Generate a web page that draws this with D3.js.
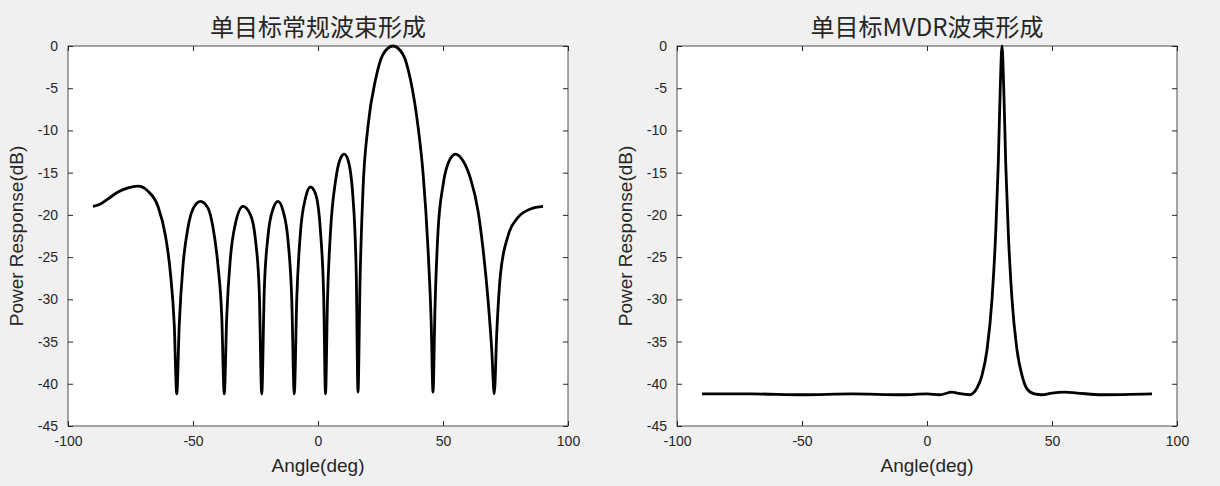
<!DOCTYPE html><html><head><meta charset="utf-8"><script src="https://cdn.jsdelivr.net/npm/d3@7"></script>
<style>body{margin:0;background:#f0f0f0}svg{display:block}</style></head><body><svg id="c" width="1220" height="486"></svg>
<script>
const xTicks=[-100,-50,0,50,100];
const yTicks=[0,-5,-10,-15,-20,-25,-30,-35,-40,-45];
const cbfAngle=[-90,-87,-84,-80,-76,-72,-68,-64,-61,-59,-57.5,-56.5,-55.5,-54,-52,-50,-47,-44,-42,-40,-38.5,-37.5,-36.5,-35,-33,-30,-27,-25,-23.5,-22.5,-21.5,-20,-18,-16,-14,-12,-10.5,-9.5,-8.5,-7,-5,-3,-1,1,2.3,3,3.8,5,7,9,10.5,12,14,15.3,16,16.8,18,20,23,26,30,34,37,40,42,44,45.3,46,46.8,48,50,53,55,58,61,64,66,68,69.5,70.5,71.5,73,76,80,85,90];
const cbfDb=[-19,-18.7,-18.1,-17.3,-16.8,-16.6,-17.2,-19,-22.5,-27,-33,-41.2,-33,-26,-21.5,-19.3,-18.4,-19.2,-21.5,-26,-32,-41.2,-32,-25,-21,-19,-20,-23,-29,-41.2,-29,-22.5,-19.3,-18.4,-19.5,-23,-30,-41.2,-30,-22,-18,-16.7,-17.5,-22,-30,-41.2,-30,-22,-16,-13.3,-12.8,-13.5,-18,-27,-41,-28,-17,-9.5,-4,-1,0,-1,-4,-9.5,-15,-24,-33,-41,-31,-22,-16.5,-13.3,-12.8,-13.6,-15.7,-19.5,-24,-30,-36,-41.2,-34,-27,-22.5,-20.3,-19.3,-19];
const mvdrAngle=[-90,-70,-50,-30,-10,0,5,10,12,17,20,22,24,26,27.5,28.5,29.3,30,30.7,31.5,32.5,34,36,38,40,43,46,50,55,60,70,90];
const mvdrDb=[-41.2,-41.2,-41.3,-41.2,-41.3,-41.2,-41.3,-41,-41.1,-41.3,-40.5,-39,-36,-30,-22,-14,-5,0,-5,-14,-22,-30,-36,-39,-40.6,-41.2,-41.3,-41.1,-41,-41.1,-41.3,-41.2];
const svg=d3.select("#c");
const fmt=d=>String(d);
function panel(x0,title,ang,db){
  const x=d3.scaleLinear().domain([-100,100]).range([x0,x0+500]);
  const y=d3.scaleLinear().domain([-45,0]).range([426,46]);
  const g=svg.append("g");
  g.append("rect").attr("x",x0).attr("y",46).attr("width",500).attr("height",380).attr("fill","#fff");
  const st=s=>{s.selectAll("path.domain").remove();s.selectAll("line").attr("stroke","#262626");s.selectAll("text").attr("fill","#262626").style("font-family","Arial, Liberation Sans").style("font-size","14px");};
  g.append("g").attr("transform","translate(0,426)").call(d3.axisBottom(x).tickValues(xTicks).tickSize(-5).tickPadding(10).tickFormat(fmt)).call(st);
  g.append("g").attr("transform","translate(0,46)").call(d3.axisTop(x).tickValues(xTicks).tickSize(-5).tickFormat("")).call(st);
  g.append("g").attr("transform",`translate(${x0},0)`).call(d3.axisLeft(y).tickValues(yTicks).tickSize(-5).tickPadding(10).tickFormat(fmt)).call(st);
  g.append("g").attr("transform",`translate(${x0+500},0)`).call(d3.axisRight(y).tickValues(yTicks).tickSize(-5).tickFormat("")).call(st);
  g.append("rect").attr("x",x0).attr("y",46).attr("width",500).attr("height",380).attr("fill","none").attr("stroke","#262626").attr("stroke-width",0.8);
  const line=d3.line().x((d,i)=>x(ang[i])).y(d=>y(d)).curve(d3.curveMonotoneX);
  g.append("path").attr("d",line(db)).attr("fill","none").attr("stroke","#000").attr("stroke-width",2.8);
  g.append("text").attr("x",x0+250).attr("y",472).attr("text-anchor","middle").style("font-family","Arial, Liberation Sans").style("font-size","19px").attr("fill","#262626").text("Angle(deg)");
  g.append("text").attr("transform",`translate(${x0-45},236) rotate(-90)`).attr("text-anchor","middle").style("font-family","Arial, Liberation Sans").style("font-size","19px").attr("fill","#262626").text("Power Response(dB)");
  g.append("text").attr("x",x0+250).attr("y",36).attr("text-anchor","middle").style("font-family","'Noto Sans CJK SC', Arial").style("font-size","24px").attr("fill","#262626").text(title);
}
panel(68,"单目标常规波束形成",cbfAngle,cbfDb);
panel(677,"单目标MVDR波束形成",mvdrAngle,mvdrDb);
</script></body></html>
